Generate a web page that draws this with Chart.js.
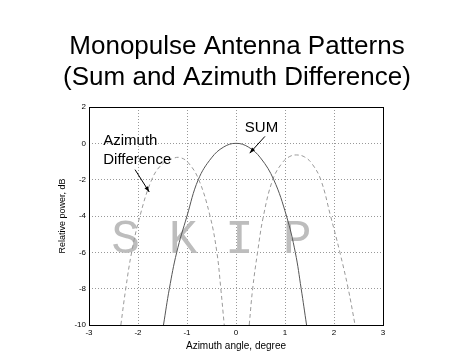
<!DOCTYPE html>
<html>
<head>
<meta charset="utf-8">
<style>
  html, body { margin: 0; padding: 0; background: #fff; }
  #wrap { width: 474px; height: 355px; position: relative; }
</style>
<script src="https://cdn.jsdelivr.net/npm/chart.js@4/dist/chart.umd.min.js"></script>
</head>
<body>
<div id="wrap"><canvas id="chart" width="474" height="355"></canvas></div>
<script>
// values (azimuth in degrees, power in dB)
const sumX = [-1.48, -1.36, -1.21, -1.0, -0.77, -0.5, -0.25, 0, 0.25, 0.5, 0.77, 1.03, 1.21, 1.33, 1.44];
const sumY = [-10, -8, -6, -4, -2, -0.8, -0.2, 0, -0.2, -0.8, -2, -4, -6, -8, -10];

const diffLeftX = [-2.35, -2.25, -2.13, -1.96, -1.72, -1.52, -1.3, -1.15, -0.98, -0.76, -0.53, -0.39, -0.31, -0.24];
const diffLeftY = [-10, -8, -6, -4, -2, -1.18, -0.85, -0.78, -1.05, -2, -4, -6, -8, -10];

const diffRightX = [0.27, 0.34, 0.44, 0.56, 0.75, 0.95, 1.1, 1.24, 1.4, 1.55, 1.73, 1.93, 2.12, 2.29, 2.43];
const diffRightY = [-10, -8, -6, -4, -2, -1.05, -0.72, -0.64, -0.75, -1.12, -2, -4, -6, -8, -10];

const xTicks = [-3, -2, -1, 0, 1, 2, 3];
const yTicks = [-10, -8, -6, -4, -2, 0, 2];

const titleLines = ['Monopulse Antenna Patterns', '(Sum and Azimuth Difference)'];

function toPoints(xs, ys) {
  return xs.map((x, i) => ({ x: x, y: ys[i] }));
}

const sumStyle = { borderColor: '#555', borderWidth: 1, pointRadius: 0, tension: 0.4, fill: false };
const diffStyle = { borderColor: '#9a9a9a', borderWidth: 1, borderDash: [4, 3], pointRadius: 0, tension: 0.4, fill: false };

function arrow(ctx, x1, y1, x2, y2) {
  ctx.beginPath();
  ctx.moveTo(x1, y1);
  ctx.lineTo(x2, y2);
  ctx.stroke();
  const a = Math.atan2(y2 - y1, x2 - x1);
  ctx.beginPath();
  ctx.moveTo(x2, y2);
  ctx.lineTo(x2 - 6 * Math.cos(a - 0.35), y2 - 6 * Math.sin(a - 0.35));
  ctx.lineTo(x2 - 6 * Math.cos(a + 0.35), y2 - 6 * Math.sin(a + 0.35));
  ctx.closePath();
  ctx.fill();
}

// watermark behind the curves
const watermark = {
  id: 'watermark',
  beforeDatasetsDraw(chart) {
    const ctx = chart.ctx;
    const xs = chart.scales.x, ys = chart.scales.y;
    ctx.save();
    ctx.fillStyle = '#bdbdbd';
    ctx.font = '48px "Liberation Mono", monospace';
    ctx.textAlign = 'center';
    ctx.textBaseline = 'middle';
    const letters = ['S', 'K', 'I', 'P'];
    const at = [-2.25, -1.08, 0.07, 1.25];
    letters.forEach((l, i) => {
      ctx.fillText(l, xs.getPixelForValue(at[i]), ys.getPixelForValue(-5.35));
    });
    ctx.restore();
  }
};

// title, frame and labels with arrows
const extras = {
  id: 'extras',
  afterDraw(chart) {
    const ctx = chart.ctx;
    const a = chart.chartArea;
    const xs = chart.scales.x, ys = chart.scales.y;
    ctx.save();
    ctx.strokeStyle = '#000';
    ctx.lineWidth = 1;
    ctx.strokeRect(Math.round(a.left) + 0.5, Math.round(a.top) + 0.5, Math.round(a.right - a.left), Math.round(a.bottom - a.top));

    ctx.fillStyle = '#000';
    ctx.textAlign = 'center';
    ctx.textBaseline = 'middle';
    ctx.font = '26px "Liberation Sans", Arial, sans-serif';
    ctx.fillText(titleLines[0], 237, 47);
    ctx.fillText(titleLines[1], 237, 78);

    ctx.font = '15px "Liberation Sans", Arial, sans-serif';
    ctx.textAlign = 'left';
    ctx.fillText('SUM', xs.getPixelForValue(0.18), ys.getPixelForValue(0.84));
    ctx.fillText('Azimuth', xs.getPixelForValue(-2.71), ys.getPixelForValue(0.11));
    ctx.fillText('Difference', xs.getPixelForValue(-2.71), ys.getPixelForValue(-0.9));

    ctx.lineWidth = 1;
    arrow(ctx, xs.getPixelForValue(0.59), ys.getPixelForValue(0.38), xs.getPixelForValue(0.28), ys.getPixelForValue(-0.54));
    arrow(ctx, xs.getPixelForValue(-2.06), ys.getPixelForValue(-1.45), xs.getPixelForValue(-1.77), ys.getPixelForValue(-2.68));
    ctx.restore();
  }
};

const tickFont = { family: '"Liberation Sans", Arial, sans-serif', size: 8 };
const gridStyle = { color: '#999', lineWidth: 1, tickLength: 0, drawTicks: false };

new Chart(document.getElementById('chart'), {
  type: 'line',
  data: {
    datasets: [
      Object.assign({ label: 'Sum', data: toPoints(sumX, sumY) }, sumStyle),
      Object.assign({ label: 'Azimuth Difference L', data: toPoints(diffLeftX, diffLeftY) }, diffStyle),
      Object.assign({ label: 'Azimuth Difference R', data: toPoints(diffRightX, diffRightY) }, diffStyle)
    ]
  },
  options: {
    responsive: false,
    animation: false,
    layout: { padding: { left: 54, right: 91, top: 107, bottom: 0 } },
    plugins: { legend: { display: false }, tooltip: { enabled: false } },
    scales: {
      x: {
        type: 'linear',
        min: -3,
        max: 3,
        afterBuildTicks(scale) { scale.ticks = xTicks.map(v => ({ value: v })); },
        afterFit(scale) { scale.height = 30; },
        ticks: { color: '#000', font: tickFont, padding: 3, maxRotation: 0 },
        grid: gridStyle,
        border: { display: false, dash: [1, 2] },
        title: { display: true, text: 'Azimuth angle, degree', color: '#000', font: { family: '"Liberation Sans", Arial, sans-serif', size: 10 }, padding: { top: 0, bottom: 3 } }
      },
      y: {
        min: -10,
        max: 2,
        afterBuildTicks(scale) { scale.ticks = yTicks.map(v => ({ value: v })); },
        afterFit(scale) { scale.width = 35; },
        ticks: { color: '#000', font: tickFont, padding: 3 },
        grid: gridStyle,
        border: { display: false, dash: [1, 2] },
        title: { display: true, text: 'Relative power, dB', color: '#000', font: { family: '"Liberation Sans", Arial, sans-serif', size: 9 }, padding: { top: 3, bottom: 0 } }
      }
    }
  },
  plugins: [watermark, extras]
});
</script>
</body>
</html>
